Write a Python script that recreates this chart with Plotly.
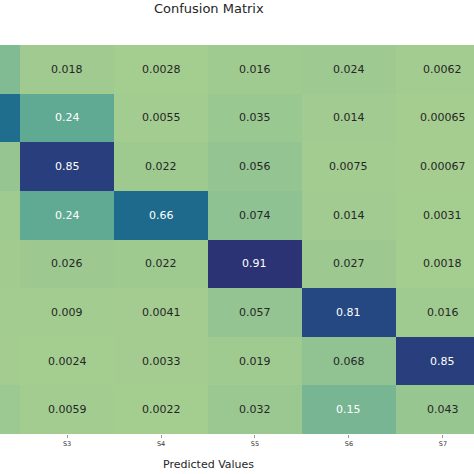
import plotly.graph_objects as go

cols = ["S2", "S3", "S4", "S5", "S6", "S7"]
rows = ["S1", "S2", "S3", "S4", "S5", "S6", "S7", "S8"]

# values per row (columns S2..S7); S2 column is cut off in the reference (estimated)
r_s1 = [0.12, 0.018, 0.0028, 0.016, 0.024, 0.0062]
r_s2 = [0.64, 0.24, 0.0055, 0.035, 0.014, 0.00065]
r_s3 = [0.05, 0.85, 0.022, 0.056, 0.0075, 0.00067]
r_s4 = [0.02, 0.24, 0.66, 0.074, 0.014, 0.0031]
r_s5 = [0.01, 0.026, 0.022, 0.91, 0.027, 0.0018]
r_s6 = [0.006, 0.009, 0.0041, 0.057, 0.81, 0.016]
r_s7 = [0.004, 0.0024, 0.0033, 0.019, 0.068, 0.85]
r_s8 = [0.03, 0.0059, 0.0022, 0.032, 0.15, 0.043]
z = [r_s1, r_s2, r_s3, r_s4, r_s5, r_s6, r_s7, r_s8]

labels = [[None, "0.018", "0.0028", "0.016", "0.024", "0.0062"],
          [None, "0.24", "0.0055", "0.035", "0.014", "0.00065"],
          [None, "0.85", "0.022", "0.056", "0.0075", "0.00067"],
          [None, "0.24", "0.66", "0.074", "0.014", "0.0031"],
          [None, "0.026", "0.022", "0.91", "0.027", "0.0018"],
          [None, "0.009", "0.0041", "0.057", "0.81", "0.016"],
          [None, "0.0024", "0.0033", "0.019", "0.068", "0.85"],
          [None, "0.0059", "0.0022", "0.032", "0.15", "0.043"]]

crest = [
    [0.0, "#a5cd90"],
    [0.15, "#7bb893"],
    [0.3, "#56a594"],
    [0.45, "#389292"],
    [0.6, "#267e8f"],
    [0.72, "#1e6a8c"],
    [0.85, "#244e86"],
    [0.95, "#29397a"],
    [1.0, "#2c3172"],
]

fig = go.Figure()
fig.add_trace(go.Heatmap(
    z=z, x=cols, y=rows, colorscale=crest, zmin=0, zmax=0.92,
    showscale=False, xgap=0, ygap=0, hoverinfo="skip",
))

for i, rname in enumerate(rows):
    for j, cname in enumerate(cols):
        t = labels[i][j]
        if t is None:
            continue
        v = z[i][j]
        fig.add_annotation(
            x=cname, y=rname, xref="x", yref="y", text=t, showarrow=False,
            font=dict(family="DejaVu Sans", size=11,
                      color="#ffffff" if v > 0.1 else "#262626"),
        )

fig.add_annotation(
    xref="paper", yref="paper", x=208.8 / 474, y=-(464 - 434) / 389,
    xanchor="center", yanchor="middle", text="Predicted Values", showarrow=False,
    font=dict(family="DejaVu Sans", size=11, color="#262626"),
)

fig.update_layout(
    width=474, height=474,
    margin=dict(l=0, r=0, t=45, b=40, pad=0),
    paper_bgcolor="white", plot_bgcolor="white",
    title=dict(text="Confusion Matrix", x=208.8 / 474, xref="container",
               y=1 - 8.5 / 474, yref="container", xanchor="center", yanchor="middle",
               font=dict(family="DejaVu Sans", size=13, color="#262626")),
    xaxis=dict(range=[0.2872, 5.33], showgrid=False, zeroline=False,
               ticks="outside", ticklen=3, tickwidth=1, tickcolor="#999999",
               tickfont=dict(family="DejaVu Sans", size=6.5, color="#333333"),
               showline=False),
    yaxis=dict(range=[7.5, -0.5], visible=False, showgrid=False, zeroline=False),
)

fig.write_html("out.html")
